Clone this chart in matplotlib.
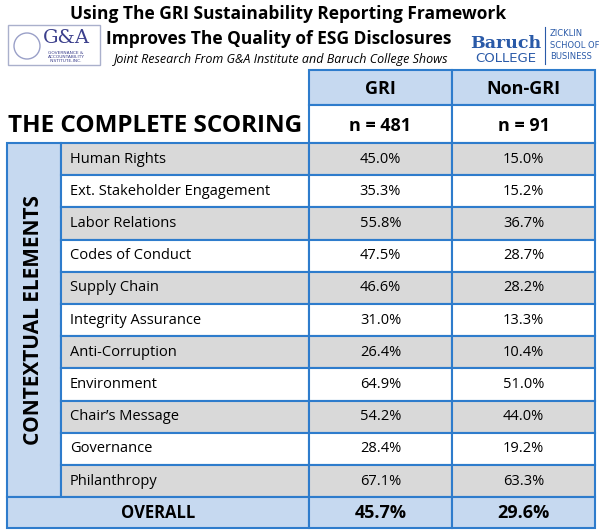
import matplotlib
matplotlib.use("Agg")
import matplotlib.pyplot as plt
from matplotlib.patches import Rectangle

title_lines = ["Using The GRI Sustainability Reporting Framework",
               "Improves The Quality of ESG Disclosures"]
subtitle = "Joint Research From G&A Institute and Baruch College Shows"
columns = ["GRI", "Non-GRI"]
sample_sizes = ["n = 481", "n = 91"]
categories = ["Human Rights", "Ext. Stakeholder Engagement", "Labor Relations",
              "Codes of Conduct", "Supply Chain", "Integrity Assurance",
              "Anti-Corruption", "Environment", "Chair\u2019s Message",
              "Governance", "Philanthropy"]
gri = [45.0, 35.3, 55.8, 47.5, 46.6, 31.0, 26.4, 64.9, 54.2, 28.4, 67.1]
non_gri = [15.0, 15.2, 36.7, 28.7, 28.2, 13.3, 10.4, 51.0, 44.0, 19.2, 63.3]
overall = [45.7, 29.6]

W, H = 600, 532
fig = plt.figure(figsize=(6, 5.32), dpi=100)
ax = fig.add_axes([0, 0, 1, 1])
ax.set_xlim(0, W); ax.set_ylim(H, 0); ax.axis("off")

BLUE = "#2e7ccc"; LB = "#c6d9f0"; GREY = "#d9d9d9"
FONT = "Open Sans"
x0, x1, x2, x3, x4 = 7, 61, 309, 452, 595
hy0, hy1, dy0 = 70, 105, 143
rh = 32.2

def rect(x, y, w, h, fc):
    ax.add_patch(Rectangle((x, y), w, h, facecolor=fc, edgecolor=BLUE, lw=1.5))

# title
ax.text(288, 14, title_lines[0], ha="center", va="center", fontsize=12.5, fontweight="bold", family=FONT)
ax.text(279, 39, title_lines[1], ha="center", va="center", fontsize=12.5, fontweight="bold", family=FONT)
ax.text(281, 60, subtitle, ha="center", va="center", fontsize=9, style="italic", family=FONT)
# logos
ax.add_patch(Rectangle((8, 25), 92, 40, facecolor="white", edgecolor="#aab0cc", lw=1))
ax.text(66, 38, "G&A", ha="center", va="center", fontsize=14, family="DejaVu Serif", color="#3b3f8c")
ax.text(66, 57, "GOVERNANCE &\nACCOUNTABILITY\nINSTITUTE,INC.", ha="center", va="center", fontsize=3.2, color="#3b3f8c", linespacing=1.0)
ax.add_patch(plt.Circle((27, 46), 13, facecolor="none", edgecolor="#9aa0c8", lw=1))
ax.text(506, 43, "Baruch", ha="center", va="center", fontsize=12.5, family="DejaVu Serif", fontweight="bold", color="#2a5aa8")
ax.text(506, 59, "COLLEGE", ha="center", va="center", fontsize=9.5, color="#2a5aa8")
ax.plot([545, 545], [27, 64], color="#2a5aa8", lw=0.8)
ax.text(550, 45, "ZICKLIN\nSCHOOL OF\nBUSINESS", ha="left", va="center", fontsize=6, color="#2a5aa8", linespacing=1.3)

# headers
for i, (c, n) in enumerate(zip(columns, sample_sizes)):
    xa = [x2, x3][i]
    rect(xa, hy0, x3 - x2, hy1 - hy0, LB)
    rect(xa, hy1, x3 - x2, dy0 - hy1, "white")
    ax.text(xa + (x3 - x2) / 2, (hy0 + hy1) / 2 + 2, c, ha="center", va="center", fontsize=13, fontweight="bold", family=FONT)
    ax.text(xa + (x3 - x2) / 2, (hy1 + dy0) / 2 + 2, n, ha="center", va="center", fontsize=13, fontweight="bold", family=FONT)
ax.text(155, 126, "THE COMPLETE SCORING", ha="center", va="center", fontsize=17.5, fontweight="bold", family=FONT)

# side label
nrows = len(categories)
rect(x0, dy0, x1 - x0, rh * nrows, LB)
ax.text((x0 + x1) / 2, dy0 + rh * nrows / 2, "CONTEXTUAL ELEMENTS", rotation=90, ha="center", va="center",
        fontsize=15, fontweight="bold", family=FONT)

for i, (cat, g, n) in enumerate(zip(categories, gri, non_gri)):
    y = dy0 + i * rh
    fc = GREY if i % 2 == 0 else "white"
    rect(x1, y, x2 - x1, rh, fc); rect(x2, y, x3 - x2, rh, fc); rect(x3, y, x4 - x3, rh, fc)
    ax.text(x1 + 9, y + rh / 2, cat, ha="left", va="center", fontsize=10.5, family=FONT)
    ax.text((x2 + x3) / 2, y + rh / 2, f"{g:.1f}%", ha="center", va="center", fontsize=10.5, family=FONT)
    ax.text((x3 + x4) / 2, y + rh / 2, f"{n:.1f}%", ha="center", va="center", fontsize=10.5, family=FONT)

yo = dy0 + nrows * rh
ho = 528 - yo
rect(x0, yo, x2 - x0, ho, LB); rect(x2, yo, x3 - x2, ho, LB); rect(x3, yo, x4 - x3, ho, LB)
ax.text((x0 + x2) / 2, yo + ho / 2, "OVERALL", ha="center", va="center", fontsize=12, fontweight="bold", family=FONT)
for i, v in enumerate(overall):
    xa = [x2, x3][i]
    ax.text(xa + (x3 - x2) / 2, yo + ho / 2, f"{v:.1f}%", ha="center", va="center", fontsize=13, fontweight="bold", family=FONT)

fig.savefig("out.png", dpi=100)
